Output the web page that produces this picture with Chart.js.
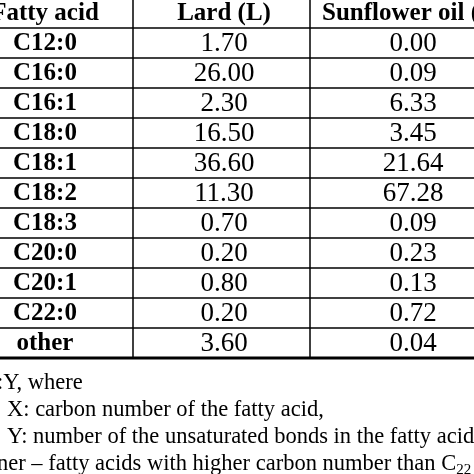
<!DOCTYPE html>
<html><head><meta charset="utf-8">
<script src="https://cdn.jsdelivr.net/npm/chart.js@4"></script>
<style>html,body{margin:0;padding:0;background:#fff}#w{width:474px;height:474px}</style>
</head><body><div id="w"><canvas id="c"></canvas></div>
<script>
const headers = ["Fatty acid", "Lard (L)", "Sunflower oil (L)"];
const acids = ["C12:0","C16:0","C16:1","C18:0","C18:1","C18:2","C18:3","C20:0","C20:1","C22:0","other"];
const lard = ["1.70","26.00","2.30","16.50","36.60","11.30","0.70","0.20","0.80","0.20","3.60"];
const sunflower = ["0.00","0.09","6.33","3.45","21.64","67.28","0.09","0.23","0.13","0.72","0.04"];
const footnotes = [":Y, where","X: carbon number of the fatty acid,","Y: number of the unsaturated bonds in the fatty acid","ner \u2013 fatty acids with higher carbon number than C"];

const tablePlugin = {
  id:'table',
  afterDraw(chart){
    const ctx=chart.ctx, xs=chart.scales.x, ys=chart.scales.y;
    const X=v=>xs.getPixelForValue(v), Y=v=>ys.getPixelForValue(v);
    ctx.save();
    ctx.fillStyle='#fff';ctx.fillRect(0,0,chart.width,chart.height);
    ctx.strokeStyle='#000';ctx.lineWidth=1.5;
    const rowH=30, top=-2;
    for(let i=1;i<=acids.length;i++){
      ctx.beginPath();ctx.moveTo(X(0),Y(top+rowH*i));ctx.lineTo(X(474),Y(top+rowH*i));ctx.stroke();
    }
    ctx.lineWidth=3;
    ctx.beginPath();ctx.moveTo(X(0),Y(top+rowH*(acids.length+1)));ctx.lineTo(X(474),Y(top+rowH*(acids.length+1)));ctx.stroke();
    ctx.lineWidth=1.5;
    [133,310].forEach(v=>{ctx.beginPath();ctx.moveTo(X(v),Y(0));ctx.lineTo(X(v),Y(top+rowH*(acids.length+1)));ctx.stroke();});
    ctx.fillStyle='#000';ctx.textBaseline='middle';ctx.textAlign='center';
    const cx=[45,224,413];
    ctx.font='bold 25px "Liberation Serif"';
    headers.forEach((h,j)=>ctx.fillText(h,X(cx[j]),Y(top+rowH/2+1)));
    acids.forEach((a,i)=>{
      const yy=Y(top+rowH*(i+1)+rowH/2+1);
      ctx.font='bold 25px "Liberation Serif"';ctx.fillText(a,X(cx[0]),yy);
      ctx.font='27px "Liberation Serif"';
      ctx.fillText(lard[i],X(cx[1]),yy);ctx.fillText(sunflower[i],X(cx[2]),yy);
    });
    ctx.textAlign='left';ctx.font='22.5px "Liberation Serif"';
    const fx=[-3,7,7,-3], fy=[383,410,437,464];
    footnotes.forEach((f,i)=>ctx.fillText(f,X(fx[i]),Y(fy[i])));
    const w=ctx.measureText(footnotes[3]).width;
    ctx.font='15px "Liberation Serif"';ctx.fillText("22",X(fx[3])+w,Y(fy[3]+6));
    ctx.restore();
  }
};
new Chart(document.getElementById('c'),{
  type:'scatter',
  data:{datasets:[{data:[]}]},
  options:{responsive:true,maintainAspectRatio:false,animation:false,
    layout:{padding:0},
    plugins:{legend:{display:false},tooltip:{enabled:false}},
    scales:{x:{type:'linear',min:0,max:474,display:false},y:{type:'linear',min:0,max:474,reverse:true,display:false}}},
  plugins:[tablePlugin]
});
</script></body></html>
